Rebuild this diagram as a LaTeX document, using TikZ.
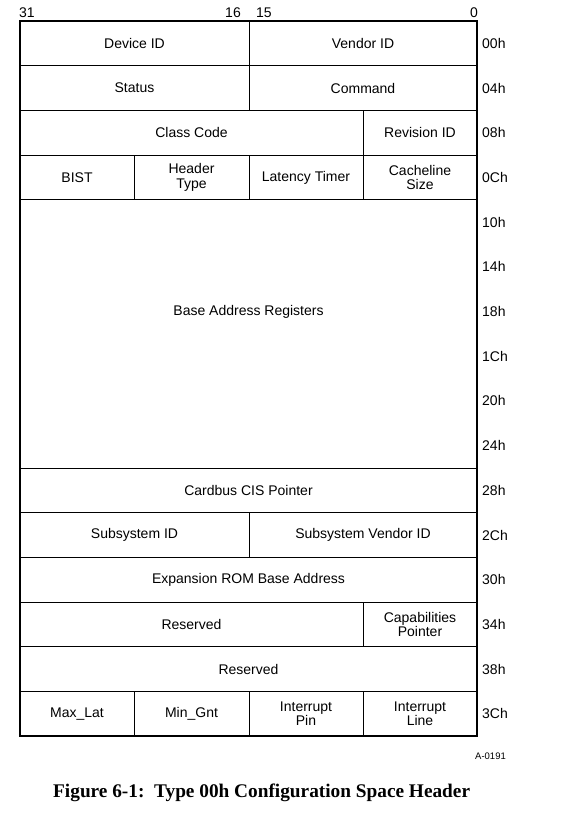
\documentclass[tikz,border=0pt]{standalone}
\usepackage{fontspec}
\setmainfont{Liberation Sans}
\newfontfamily\capfont{Liberation Serif}
\begin{document}
\begin{tikzpicture}[x=1pt,y=-1pt,
  cell/.style={font=\fontsize{14}{14.5}\selectfont, align=center, inner sep=0pt},
  off/.style={font=\fontsize{14}{15}\selectfont, anchor=west, inner sep=0pt},
  bit/.style={font=\fontsize{14}{15}\selectfont, inner sep=0pt},
  grid/.style={line width=1pt},
  frame/.style={line width=1.7pt}]
\useasboundingbox (0,0) rectangle (580,820);
\def\L{20}\def\R{477}
\def\ca{134}\def\cb{249}\def\cc{363}
\def\rh{44.7}
% horizontal lines
\foreach \i in {1,2,3,4,10,11,12,13,14,15}{
  \draw[grid] (\L,21+\i*\rh) -- (\R,21+\i*\rh);
}
% vertical dividers
\draw[grid] (\cb,21) -- (\cb,21+2*\rh);
\draw[grid] (\cc,21+2*\rh) -- (\cc,21+3*\rh);
\draw[grid] (\ca,21+3*\rh) -- (\ca,21+4*\rh);
\draw[grid] (\cb,21+3*\rh) -- (\cb,21+4*\rh);
\draw[grid] (\cc,21+3*\rh) -- (\cc,21+4*\rh);
\draw[grid] (\cb,21+11*\rh) -- (\cb,21+12*\rh);
\draw[grid] (\cc,21+13*\rh) -- (\cc,21+14*\rh);
\draw[grid] (\ca,21+15*\rh) -- (\ca,21+16*\rh);
\draw[grid] (\cb,21+15*\rh) -- (\cb,21+16*\rh);
\draw[grid] (\cc,21+15*\rh) -- (\cc,21+16*\rh);
\draw[frame] (\L,21) rectangle (\R,21+16*\rh);
% bit labels
\node[bit, anchor=south west] (b31) at (19,18) {31};
\node[bit, anchor=south east] (b16) at (241,18) {16};
\node[bit, anchor=south west] (b15) at (256,18) {15};
\node[bit, anchor=south east] (b0) at (478,18) {0};
% cells
\node[cell] (devid) at ({(\L+\cb)/2},{21+0.5*\rh}) {Device ID};
\node[cell] (venid) at ({(\cb+\R)/2},{21+0.5*\rh}) {Vendor ID};
\node[cell] (status) at ({(\L+\cb)/2},{21+1.5*\rh}) {Status};
\node[cell] (cmd) at ({(\cb+\R)/2},{21+1.5*\rh}) {Command};
\node[cell] (class) at ({(\L+\cc)/2},{21+2.5*\rh}) {Class Code};
\node[cell] (rev) at ({(\cc+\R)/2},{21+2.5*\rh}) {Revision ID};
\node[cell] (bist) at ({(\L+\ca)/2},{21+3.5*\rh}) {BIST};
\node[cell] (htype) at ({(\ca+\cb)/2},{21+3.5*\rh}) {Header\\Type};
\node[cell] (lat) at ({(\cb+\cc)/2},{21+3.5*\rh}) {Latency Timer};
\node[cell] (cls) at ({(\cc+\R)/2},{21+3.5*\rh}) {Cacheline\\Size};
\node[cell] (bar) at ({(\L+\R)/2},{21+6.5*\rh}) {Base Address Registers};
\node[cell] (cis) at ({(\L+\R)/2},{21+10.5*\rh}) {Cardbus CIS Pointer};
\node[cell] (ssid) at ({(\L+\cb)/2},{21+11.5*\rh}) {Subsystem ID};
\node[cell] (ssvid) at ({(\cb+\R)/2},{21+11.5*\rh}) {Subsystem Vendor ID};
\node[cell] (rom) at ({(\L+\R)/2},{21+12.5*\rh}) {Expansion ROM Base Address};
\node[cell] (res1) at ({(\L+\cc)/2},{21+13.5*\rh}) {Reserved};
\node[cell] (cap) at ({(\cc+\R)/2},{21+13.5*\rh}) {Capabilities\\Pointer};
\node[cell] (res2) at ({(\L+\R)/2},{21+14.5*\rh}) {Reserved};
\node[cell] (maxlat) at ({(\L+\ca)/2},{21+15.5*\rh}) {Max\_Lat};
\node[cell] (mingnt) at ({(\ca+\cb)/2},{21+15.5*\rh}) {Min\_Gnt};
\node[cell] (ipin) at ({(\cb+\cc)/2},{21+15.5*\rh}) {Interrupt\\Pin};
\node[cell] (iline) at ({(\cc+\R)/2},{21+15.5*\rh}) {Interrupt\\Line};
% offsets
\foreach \t [count=\i from 0] in {00h,04h,08h,0Ch,10h,14h,18h,1Ch,20h,24h,28h,2Ch,30h,34h,38h,3Ch}{
  \node[off] (o\i) at (482,{21+(\i+0.5)*\rh}) {\t};
}
\node[font=\fontsize{9.5}{10}\selectfont, anchor=west, inner sep=0pt] (fid) at (475,756) {A-0191};
\node[font=\capfont\bfseries\fontsize{19.3}{20}\selectfont, anchor=west, inner sep=0pt] (cap1) at (53,793) {Figure 6-1:\ \ Type 00h Configuration Space Header};
\end{tikzpicture}
\end{document}
